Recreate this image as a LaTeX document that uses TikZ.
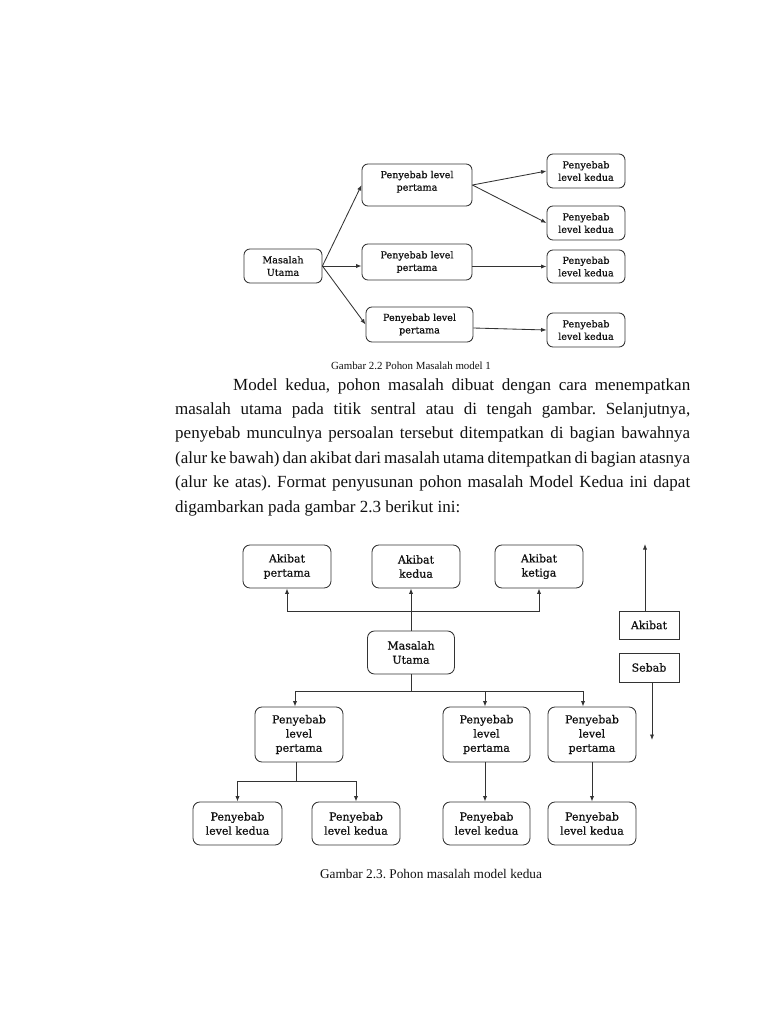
\documentclass[tikz,border=0pt]{standalone}
\usepackage{fontspec}
\setmainfont{Liberation Serif}
\newfontfamily\boxfont[FakeBold=0.7]{DejaVu Serif}
\usetikzlibrary{arrows.meta}
\definecolor{lc}{HTML}{333333}
\definecolor{tc}{HTML}{111111}
\frenchspacing
\begin{document}
\begin{tikzpicture}[x=1pt,y=-1pt,
  ln/.style={draw=lc, line width=0.85pt},
  arr/.style={ln, -{Latex[length=5.5pt,width=4.2pt]}},
  bxa/.style={ln, rounded corners=6pt, inner sep=0pt, align=center, text=tc,
    font=\boxfont\fontsize{9.6}{12.5}\selectfont},
  bxb/.style={ln, rounded corners=7pt, inner sep=0pt, align=center, text=tc,
    font=\boxfont\fontsize{11}{14.2}\selectfont},
  sqb/.style={ln, inner sep=0pt, align=center, text=tc, minimum width=60, font=\boxfont\fontsize{11}{14}\selectfont},
  bodyline/.style={anchor=base west, inner sep=0pt, text=tc, font=\fontsize{17}{20}\selectfont},
  captxt/.style={anchor=base, inner sep=0pt, text=tc}
]
\useasboundingbox (0,0) rectangle (768,1024);
\fill[white] (0,0) rectangle (768,1024);

% ---------- Figure 2.2 ----------
\node[bxa, minimum width=78, minimum height=34] (m) at (283,266) {Masalah\\Utama};
\node[bxa, minimum width=110, minimum height=42] (p1) at (417,185) {Penyebab level\\pertama\\[-4pt]\mbox{}};
\node[bxa, minimum width=110, minimum height=36] (p2) at (417,262) {Penyebab level\\pertama};
\node[bxa, minimum width=107, minimum height=35] (p3) at (419.5,324.5) {Penyebab level\\pertama};
\node[bxa, minimum width=78, minimum height=34] (k1) at (586,171) {Penyebab\\level kedua};
\node[bxa, minimum width=78, minimum height=34] (k2) at (586,223) {Penyebab\\level kedua};
\node[bxa, minimum width=78, minimum height=33] (k3) at (586,266.5) {Penyebab\\level kedua};
\node[bxa, minimum width=78, minimum height=34] (k4) at (586,330) {Penyebab\\level kedua};

\draw[arr] (m.east) -- (p1.west);
\draw[arr] (m.east) -- (m.east -| p2.west);
\draw[arr] (m.east) -- (p3.west);
\draw[arr] (p1.east) -- (k1.west);
\draw[arr] (p1.east) -- (k2.west);
\draw[arr] (p2.east |- k3.west) -- (k3.west);
\draw[arr] ([yshift=-3.5pt]p3.east) -- (k4.west);

\node[captxt, font=\fontsize{10.9}{13}\selectfont] (c1) at (411,369) {Gambar 2.2 Pohon Masalah model 1};

% ---------- Body text ----------
\node[bodyline] (l1) at (233,390) {\makebox[457pt][s]{Model kedua, pohon masalah dibuat dengan cara menempatkan}};
\node[bodyline] (l2) at (175,414.4) {\makebox[515pt][s]{masalah utama pada titik sentral atau di tengah gambar. Selanjutnya,}};
\node[bodyline] (l3) at (175,438.8) {\makebox[515pt][s]{penyebab munculnya persoalan tersebut ditempatkan di bagian bawahnya}};
\node[bodyline] (l4) at (175,463.2) {\makebox[515pt][s]{(alur ke bawah) dan akibat dari masalah utama ditempatkan di bagian atasnya}};
\node[bodyline] (l5) at (175,487.6) {\makebox[515pt][s]{(alur ke atas). Format penyusunan pohon masalah Model Kedua ini dapat}};
\node[bodyline] (l6) at (175,512) {digambarkan pada gambar 2.3 berikut ini:};

% ---------- Figure 2.3 ----------
\node[bxb, minimum width=88, minimum height=43] (a1) at (287,566.5) {Akibat\\pertama};
\node[bxb, minimum width=88, minimum height=43] (a2) at (416,566.5) {Akibat\\kedua};
\node[bxb, minimum width=88, minimum height=43] (a3) at (539,566.5) {Akibat\\ketiga};
\node[bxb, minimum width=87, minimum height=43] (m2) at (411,652.5) {Masalah\\Utama};

\node[bxb, minimum width=88, minimum height=55] (q1) at (299,734.5) {Penyebab\\level\\pertama};
\node[bxb, minimum width=87, minimum height=55] (q2) at (486.5,734.5) {Penyebab\\level\\pertama};
\node[bxb, minimum width=88, minimum height=55] (q3) at (592,734.5) {Penyebab\\level\\pertama};

\node[bxb, minimum width=89, minimum height=43] (r1) at (237.5,823.5) {Penyebab\\level kedua};
\node[bxb, minimum width=88, minimum height=43] (r2) at (356,823.5) {Penyebab\\level kedua};
\node[bxb, minimum width=87, minimum height=43] (r3) at (486.5,823.5) {Penyebab\\level kedua};
\node[bxb, minimum width=88, minimum height=43] (r4) at (592,823.5) {Penyebab\\level kedua};

\node[sqb, minimum height=28] (ak) at (649,625) {Akibat};
\node[sqb, minimum height=29] (sb) at (649,667.5) {Sebab};

% connectors
\draw[arr] (m2.north) -- (m2.north |- a2.south);
\coordinate (j1) at (411,611);
\draw[arr] (j1) -| (a1.south);
\draw[arr] (j1) -| (a3.south);

\coordinate (j2) at (411,691);
\draw[ln] (m2.south) -- (j2);
\draw[arr] (j2) -| ([xshift=-4pt]q1.north);
\draw[arr] (j2) -| ([xshift=-1.5pt]q2.north);
\draw[arr] (j2) -| ([xshift=-9pt]q3.north);

\coordinate (j3) at (296,781);
\draw[ln] (q1.south -| j3) -- (j3);
\draw[arr] (j3) -| (r1.north);
\draw[arr] (j3) -| (r2.north);
\draw[arr] ([xshift=-1.5pt]q2.south) -- ([xshift=-1.5pt]r3.north);
\draw[arr] (q3.south) -- (r4.north);

\coordinate (up) at (645,544);
\draw[arr] (ak.north -| up) -- (up);
\coordinate (dn) at (652,740);
\draw[arr] (sb.south -| dn) -- (dn);

\node[captxt, font=\fontsize{13.3}{15}\selectfont] (c2) at (431,878) {Gambar 2.3. Pohon masalah model kedua};
\end{tikzpicture}
\end{document}
